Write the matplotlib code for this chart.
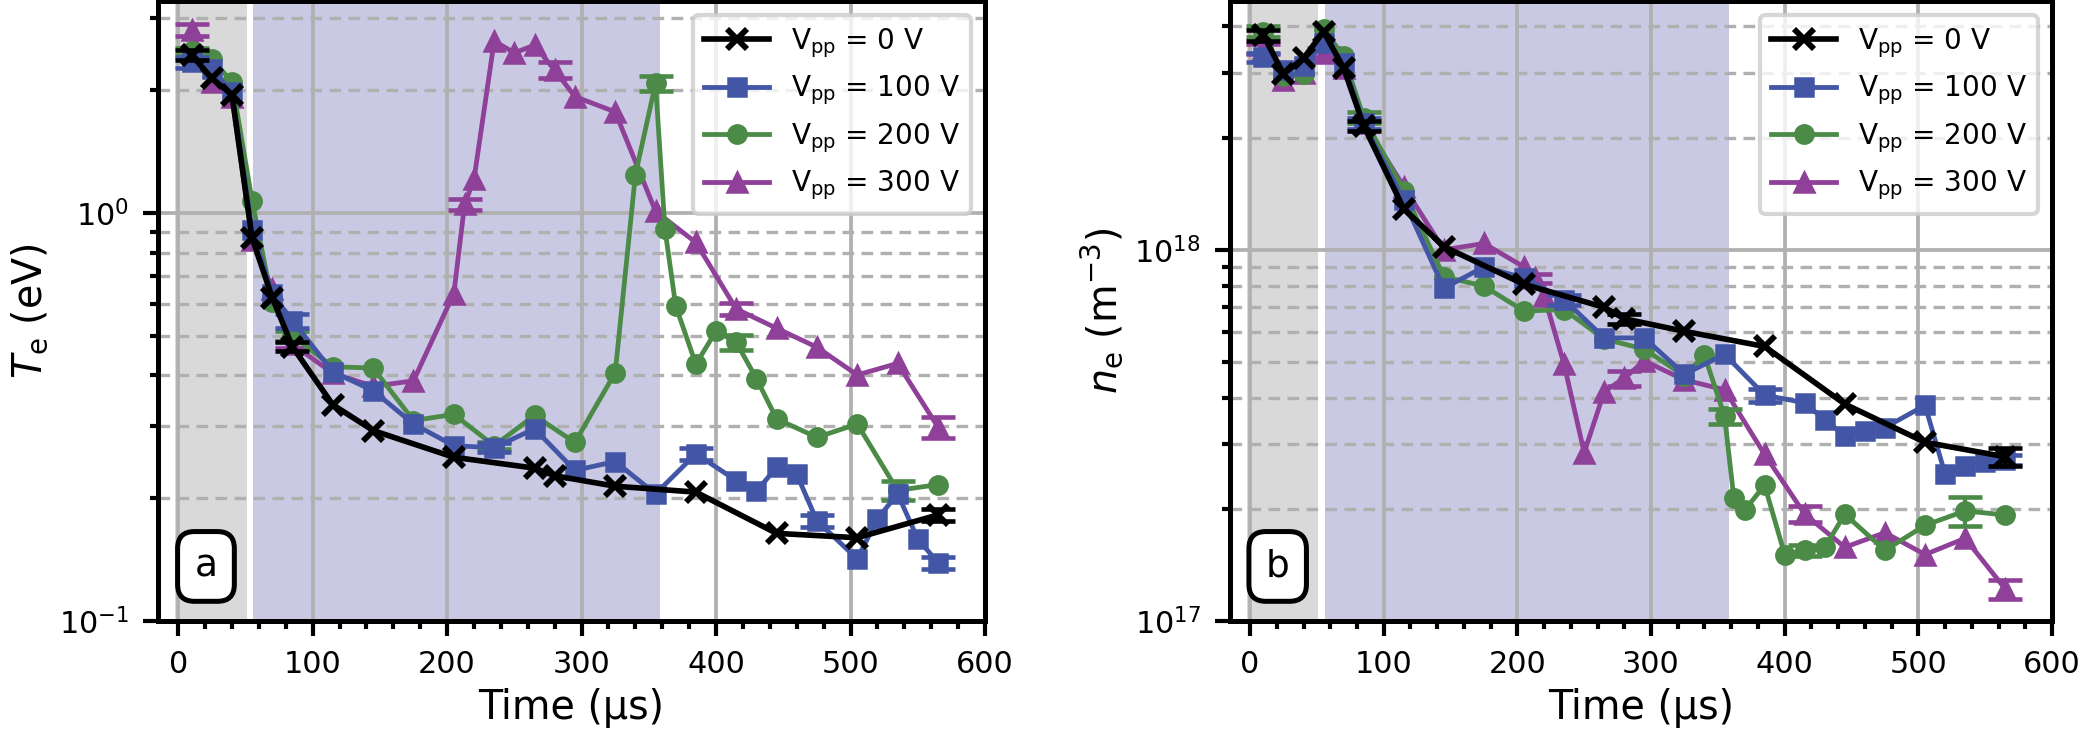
import matplotlib.pyplot as plt
from matplotlib.ticker import MultipleLocator, NullFormatter
import numpy as np

# time points (us) for each bias voltage
t_0V = [10, 25, 40, 55, 70, 85, 115, 145, 205, 265, 280, 325, 385, 445, 505, 565]
t_100V = [10, 25, 40, 55, 70, 85, 115, 145, 175, 205, 235, 265, 295, 325, 355, 385,
          415, 430, 445, 460, 475, 505, 520, 535, 550, 565]
t_200V = [10, 25, 40, 55, 70, 85, 115, 145, 175, 205, 235, 265, 295, 325, 340, 355,
          362, 370, 385, 400, 415, 430, 445, 475, 505, 535, 565]
t_300V = [10, 25, 40, 55, 70, 85, 115, 145, 175, 205, 213, 220, 235, 250, 265, 280,
          295, 325, 355, 385, 415, 445, 475, 505, 535, 565]

# electron temperature (eV)
Te_0V = [2.44, 2.14, 1.95, 0.868, 0.62, 0.47, 0.339, 0.293, 0.252, 0.237, 0.227,
         0.214, 0.207, 0.164, 0.160, 0.182]
Te_100V = [2.34, 2.25, 1.98, 0.91, 0.632, 0.545, 0.408, 0.367, 0.304, 0.269, 0.266,
           0.296, 0.234, 0.246, 0.205, 0.257, 0.221, 0.208, 0.238, 0.229, 0.176,
           0.142, 0.178, 0.205, 0.159, 0.139]
Te_200V = [2.49, 2.38, 2.10, 1.07, 0.605, 0.50, 0.42, 0.417, 0.31, 0.321, 0.269,
           0.319, 0.274, 0.406, 1.24, 2.08, 0.913, 0.592, 0.426, 0.514, 0.482, 0.393,
           0.313, 0.282, 0.304, 0.209, 0.216]
Te_300V = [2.81, 2.10, 1.92, 0.86, 0.653, 0.477, 0.405, 0.376, 0.388, 0.635, 1.05,
           1.21, 2.64, 2.47, 2.58, 2.24, 1.93, 1.77, 1.01, 0.847, 0.582, 0.522, 0.469,
           0.401, 0.428, 0.299]

# relative uncertainties on Te (0 = no visible bar)
Te_0V_rel = [0.03, 0, 0, 0, 0, 0.025, 0, 0, 0, 0, 0, 0, 0, 0, 0, 0.035]
Te_100V_rel = [0.03, 0, 0, 0, 0, 0.04, 0, 0, 0, 0, 0.025, 0, 0, 0, 0, 0.035, 0, 0, 0,
               0, 0.035, 0, 0, 0, 0, 0.035]
Te_200V_rel = [0.02, 0, 0, 0, 0, 0.03, 0, 0, 0, 0, 0.02, 0, 0, 0, 0, 0.045, 0, 0, 0,
               0, 0.04, 0, 0, 0, 0, 0.055, 0]
Te_300V_rel = [0.035, 0, 0, 0, 0, 0.02, 0, 0, 0, 0, 0.03, 0, 0, 0, 0, 0.045, 0, 0, 0,
               0, 0.035, 0, 0, 0, 0, 0.06]

# electron density (1e18 m^-3)
ne_0V = [3.78, 2.98, 3.28, 3.87, 3.09, 2.16, 1.29, 1.02, 0.807, 0.70, 0.652, 0.603,
         0.549, 0.384, 0.303, 0.277]
ne_100V = [3.30, 3.05, 3.13, 3.60, 3.18, 2.19, 1.36, 0.788, 0.899, 0.84, 0.734, 0.579,
           0.579, 0.462, 0.523, 0.406, 0.387, 0.348, 0.316, 0.324, 0.332, 0.381, 0.249,
           0.262, 0.268, 0.272]
ne_200V = [3.87, 2.94, 2.98, 3.93, 3.32, 2.27, 1.44, 0.847, 0.798, 0.684, 0.69, 0.575,
           0.54, 0.457, 0.52, 0.356, 0.214, 0.199, 0.232, 0.151, 0.155, 0.158, 0.194,
           0.155, 0.181, 0.198, 0.193]
ne_300V = [3.48, 2.87, 3.0, 3.4, 3.09, 2.2, 1.48, 1.0, 1.04, 0.899, 0.837, 0.752, 0.491,
           0.284, 0.415, 0.451, 0.502, 0.446, 0.42, 0.281, 0.194, 0.158, 0.173, 0.151,
           0.167, 0.122]

# relative uncertainties on ne (0 = no visible bar)
ne_0V_rel = [0.035, 0, 0, 0, 0, 0.03, 0, 0, 0, 0, 0.03, 0, 0, 0, 0, 0.055]
ne_100V_rel = [0.03, 0, 0, 0, 0, 0.035, 0, 0, 0, 0, 0.03, 0, 0, 0, 0, 0.04, 0, 0, 0,
               0, 0, 0, 0, 0, 0, 0.03]
ne_200V_rel = [0.035, 0, 0, 0, 0, 0.035, 0, 0, 0, 0, 0, 0, 0, 0, 0, 0.045, 0, 0, 0,
               0, 0.035, 0, 0, 0, 0, 0.09, 0]
ne_300V_rel = [0.03, 0, 0, 0.03, 0, 0, 0, 0, 0, 0, 0.03, 0, 0, 0, 0, 0.045, 0, 0, 0,
               0, 0.05, 0, 0, 0, 0, 0.06]

labels = ['V$_{\\rm pp}$ = 0 V', 'V$_{\\rm pp}$ = 100 V',
          'V$_{\\rm pp}$ = 200 V', 'V$_{\\rm pp}$ = 300 V']
colors = ['k', '#4355a5', '#4b8b47', '#8f4098']
markers = ['x', 's', 'o', '^']
msizes = [4.6, 4.2, 4.4, 5.0]
lws = [1.35, 1.15, 1.15, 1.15]
zords = [6, 5, 4, 3]

times = [t_0V, t_100V, t_200V, t_300V]
Te = [Te_0V, Te_100V, Te_200V, Te_300V]
Te_rel = [Te_0V_rel, Te_100V_rel, Te_200V_rel, Te_300V_rel]
ne = [ne_0V, ne_100V, ne_200V, ne_300V]
ne_rel = [ne_0V_rel, ne_100V_rel, ne_200V_rel, ne_300V_rel]

W, H = 2083, 735
fig = plt.figure(figsize=(W/300, H/300), dpi=300)
ax1 = fig.add_axes([158/W, 1-621/H, 827/W, 620/H])
ax2 = fig.add_axes([1230/W, 1-621/H, 822/W, 620/H])

grid_c = '#b0b0b0'

def draw(ax, ys, rels, scale, ylim, ylabel, tag):
    ax.axvspan(-2, 51, color='#d9d9d9', lw=0, zorder=0)
    ax.axvspan(56, 358, color='#c9c9e4', lw=0, zorder=0)
    for i in range(4):
        t = np.array(times[i])
        y = np.array(ys[i]) * scale
        rel = np.array(rels[i])
        m = rel > 0
        ax.errorbar(t[m], y[m], yerr=y[m] * rel[m], fmt='none', ecolor=colors[i],
                    elinewidth=1.0, capsize=4, capthick=1.1, zorder=zords[i])
        mew = 1.4 if markers[i] == 'x' else 0.6
        ax.plot(t, y, color=colors[i], marker=markers[i], ms=msizes[i],
                mew=mew, lw=lws[i], label=labels[i], zorder=zords[i])
    ax.set_yscale('log')
    ax.set_ylim(ylim)
    ax.set_xlim(-15, 600)
    ax.xaxis.set_major_locator(MultipleLocator(100))
    ax.xaxis.set_minor_locator(MultipleLocator(20))
    ax.yaxis.set_minor_formatter(NullFormatter())
    ax.grid(which='major', color=grid_c, lw=0.9, ls='-')
    ax.grid(which='minor', axis='y', color=grid_c, lw=0.8, ls=(0, (3.5, 2.2)))
    ax.tick_params(which='both', labelsize=7.3, width=1.0)
    ax.tick_params(which='major', length=3.5)
    ax.tick_params(which='minor', length=2.0)
    for s in ax.spines.values():
        s.set_linewidth(1.2)
    ax.set_xlabel('Time (µs)', fontsize=9.5, labelpad=2)
    ax.set_ylabel(ylabel, fontsize=9.5, labelpad=2)
    ax.legend(loc='upper right', fontsize=6.7, handlelength=2.3)
    ax.text(0.058, 0.088, tag, transform=ax.transAxes, fontsize=9,
            ha='center', va='center', zorder=10,
            bbox=dict(boxstyle='round,pad=0.45', fc='white', ec='k', lw=1.2))

draw(ax1, Te, Te_rel, 1.0, (0.1, 3.31), '$T_{\\rm e}$ (eV)', 'a')
draw(ax2, ne, ne_rel, 1e18, (1e17, 4.68e18), '$n_{\\rm e}$ (m$^{-3}$)', 'b')

fig.savefig('out.png', dpi=300)
